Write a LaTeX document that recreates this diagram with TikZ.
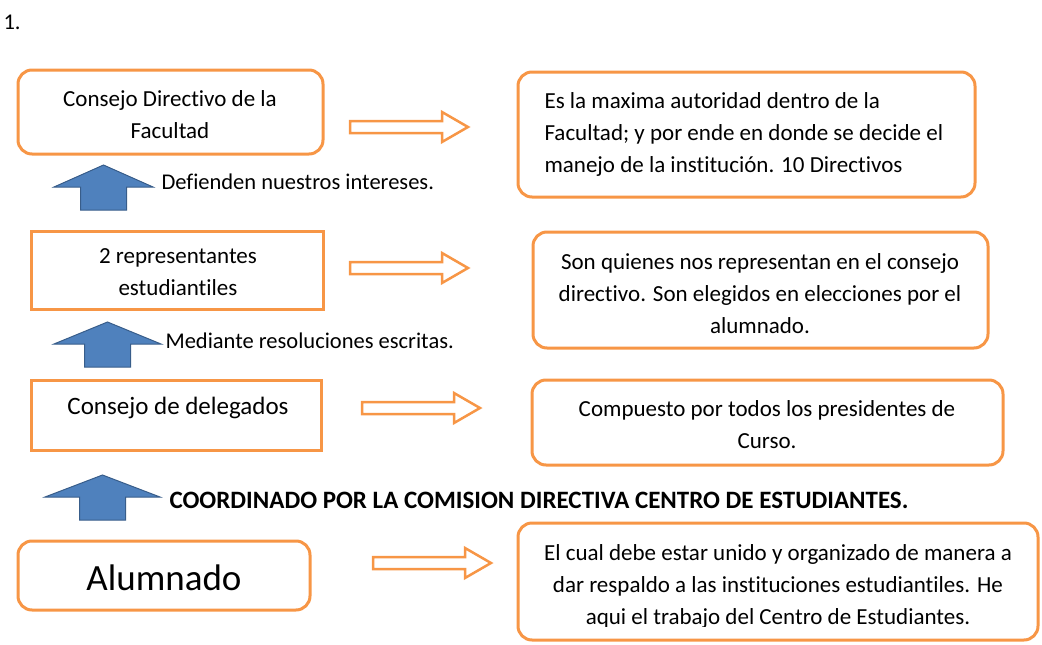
\documentclass[tikz,border=0pt]{standalone}
\usepackage{fontspec}
\setmainfont[Ligatures=NoCommon]{Carlito}
\definecolor{orng}{HTML}{F79646}
\definecolor{blu}{HTML}{4F81BD}
\definecolor{bluD}{HTML}{385D8A}
\begin{document}
\begin{tikzpicture}[x=1pt,y=-1pt,
 lbox/.style={draw=orng,line width=3pt,fill=white},
 rbox/.style={lbox,rounded corners=14pt},
 txt/.style={font=\fontsize{23}{32}\selectfont,align=center},
 hollow/.style={draw=orng,line width=2.5pt,fill=white,line join=miter}]
\useasboundingbox (0,0) rectangle (1042,645);
\node[anchor=west,font=\fontsize{22.5}{26}\selectfont] (num) at (0,22) {1.};
% left boxes
\draw[rbox] (18,70) rectangle (323,154);
\node[txt] (l1) at (170,115) {Consejo Directivo de la\\Facultad};
\draw[lbox] (31,231) rectangle (323,309);
\node[txt] (l2) at (178,272) {2 representantes\\estudiantiles};
\draw[lbox] (31,380) rectangle (321,450);
\node[font=\fontsize{25}{30}\selectfont] (l3) at (178,408) {Consejo de delegados};
\draw[rbox] (18,541) rectangle (310,610);
\node[font=\fontsize{37}{42}\selectfont] (l4) at (164,578) {Alumnado};
% right boxes
\draw[rbox] (518,72) rectangle (975,197);
\node[txt,align=left,anchor=west] (r1) at (541,134) {Es la maxima autoridad dentro de la\\Facultad; y por ende en donde se decide el\\manejo de la institución. 10 Directivos};
\draw[rbox] (533,232) rectangle (988,348);
\node[txt] (r2) at (760,294) {Son quienes nos representan en el consejo\\directivo. Son elegidos en elecciones por el\\alumnado.};
\draw[rbox] (532,380) rectangle (1003,465);
\node[txt] (r3) at (767,425) {Compuesto por todos los presidentes de\\Curso.};
\draw[rbox] (518,523) rectangle (1038,640);
\begin{scope}
\clip (500,500) rectangle (1042,626);
\node[txt] (r4) at (778,586) {El cual debe estar unido y organizado de manera a\\dar respaldo a las instituciones estudiantiles. He\\aqui el trabajo del Centro de Estudiantes.};
\end{scope}
% hollow arrows
\foreach \x/\y in {350/127,350/268,362/408,373/563}{
 \draw[hollow] (\x,\y-6) -- (\x+92,\y-6) -- (\x+92,\y-15) -- (\x+118,\y) -- (\x+92,\y+15) -- (\x+92,\y+6) -- (\x,\y+6) -- cycle;
}
% blue arrows
\foreach \x/\y/\w in {54/165/99,54/322/107,45/475/115}{
 \draw[fill=blu,draw=bluD,line width=1pt] (\x,\y+22) -- (\x+\w/2,\y) -- (\x+\w,\y+22) -- (\x+\w/2+23,\y+22) -- (\x+\w/2+23,\y+45) -- (\x+\w/2-23,\y+45) -- (\x+\w/2-23,\y+22) -- cycle;
}
\node[anchor=west,font=\fontsize{22.5}{26}\selectfont] (t1) at (158,182) {Defienden nuestros intereses.};
\node[anchor=west,font=\fontsize{22.5}{26}\selectfont] (t2) at (162,341) {Mediante resoluciones escritas.};
\node[anchor=west,font=\fontsize{25}{28}\selectfont\bfseries] (t3) at (166,500) {COORDINADO POR LA COMISION DIRECTIVA CENTRO DE ESTUDIANTES.};
\end{tikzpicture}
\end{document}
